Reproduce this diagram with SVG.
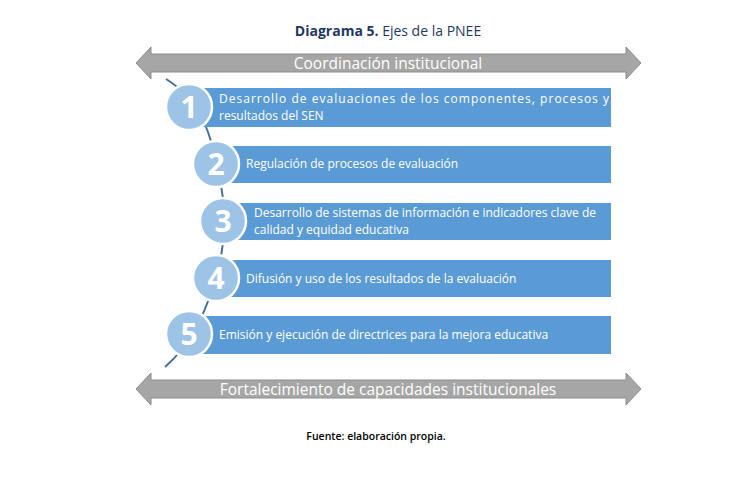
<svg xmlns="http://www.w3.org/2000/svg" width="752" height="481" viewBox="0 0 752 481">
<style>
.bar{fill:#5b9bd5}
.circ{fill:#9dc3e6;stroke:#fff;stroke-width:2.5}
.num{font-family:"Open Sans","Liberation Sans",sans-serif;font-size:30px;font-weight:bold;fill:#fff;text-anchor:middle}
.lbl{font-family:"Open Sans","Liberation Sans",sans-serif;font-size:12px;fill:#fff}
.arr{fill:#a6a6a6;stroke:#8c8c8c;stroke-width:1}
.arrt{font-family:"Open Sans","Liberation Sans",sans-serif;font-size:15.5px;fill:#fff;text-anchor:middle}
</style>
<rect width="752" height="481" fill="#fff"/>
<text x="388" y="36" text-anchor="middle" font-family="Open Sans,Liberation Sans,sans-serif" font-size="14" fill="#1f3864"><tspan font-weight="bold">Diagrama 5.</tspan> Ejes de la PNEE</text>
<g id="connectors">
<path d="M166,79 C200,100 210,130 218,170 C226,205 228,240 214,285 C202,320 190,345 165,367" fill="none" stroke="#41719c" stroke-width="2"/>
</g>
<g id="top-arrow">
<polygon class="arr" points="136,63 151,47 151,54 626,54 626,47 641,63 626,79 626,72 151,72 151,79"/>
<text class="arrt" x="388" y="69">Coordinación institucional</text>
</g>
<g id="bottom-arrow">
<polygon class="arr" points="136,389 151,373 151,380 626,380 626,373 641,389 626,405 626,398 151,398 151,405"/>
<text class="arrt" x="388" y="395">Fortalecimiento de capacidades institucionales</text>
</g>
<g id="n1"><rect class="bar" x="200" y="88" width="411" height="39"/><circle class="circ" cx="189" cy="107" r="23"/><text class="num" x="189" y="118">1</text>
<text class="lbl" x="219" y="103" textLength="390" lengthAdjust="spacing">Desarrollo de evaluaciones de los componentes, procesos y</text><text class="lbl" x="219" y="120">resultados del SEN</text></g>
<g id="n2"><rect class="bar" x="226" y="146" width="385" height="37"/><circle class="circ" cx="216" cy="164" r="23"/><text class="num" x="216" y="175">2</text>
<text class="lbl" x="246" y="168">Regulación de procesos de evaluación</text></g>
<g id="n3"><rect class="bar" x="234" y="203" width="377" height="37"/><circle class="circ" cx="223" cy="221" r="23"/><text class="num" x="223" y="232">3</text>
<text class="lbl" x="254" y="217">Desarrollo de sistemas de información e indicadores clave de</text><text class="lbl" x="254" y="234">calidad y equidad educativa</text></g>
<g id="n4"><rect class="bar" x="226" y="260" width="385" height="37"/><circle class="circ" cx="216" cy="278" r="23"/><text class="num" x="216" y="289">4</text>
<text class="lbl" x="246" y="283">Difusión y uso de los resultados de la evaluación</text></g>
<g id="n5"><rect class="bar" x="200" y="316" width="411" height="38"/><circle class="circ" cx="189" cy="334" r="23"/><text class="num" x="189" y="345">5</text>
<text class="lbl" x="219" y="339">Emisión y ejecución de directrices para la mejora educativa</text></g>
<text x="376" y="440" text-anchor="middle" font-family="Open Sans,Liberation Sans,sans-serif" font-size="10.5" font-weight="600" fill="#000">Fuente: elaboración propia.</text>
</svg>
